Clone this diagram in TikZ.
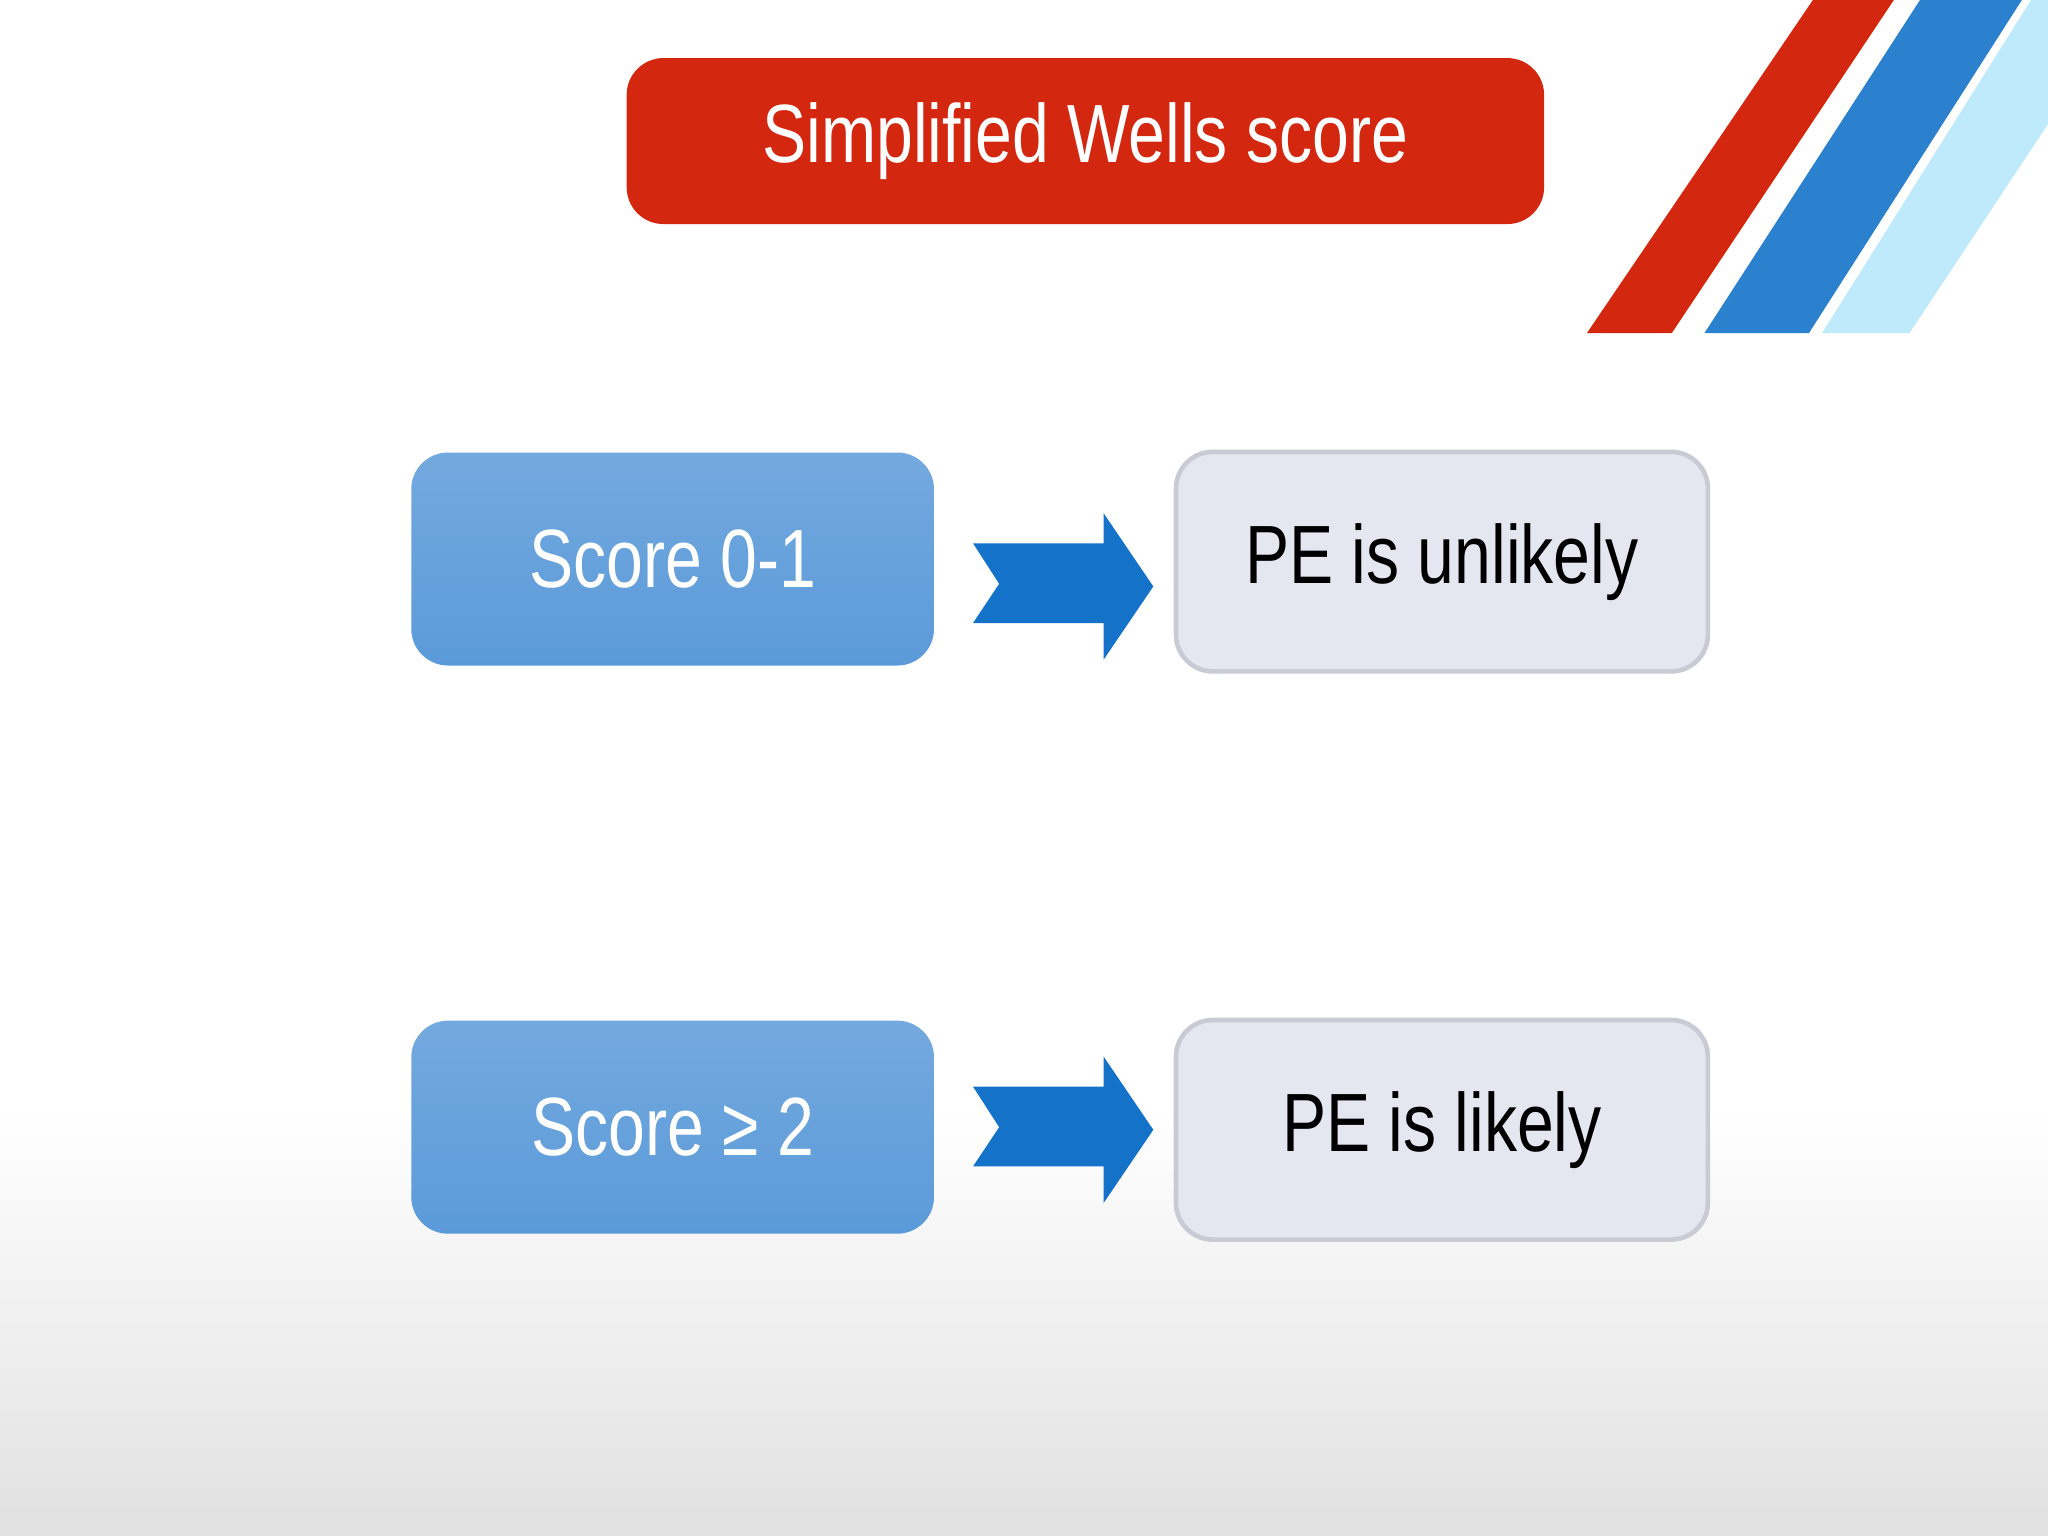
\documentclass[tikz,border=0pt]{standalone}
\usepackage{fontspec}
\setmainfont[FakeStretch=0.8]{Liberation Sans}
\begin{document}
\begin{tikzpicture}[x=0.01cm,y=-0.01cm,
  bluebox/.style={rounded corners=8pt,top color=blue1!85!white,bottom color=blue1,text=white,font=\fontsize{18}{20}\selectfont,minimum width=4cm,minimum height=1.63cm,inner sep=0},
  graybox/.style={rounded corners=8pt,fill=gray1,draw=gray2,line width=1pt,text=black,font=\fontsize{18}{20}\selectfont,minimum width=4.07cm,minimum height=1.68cm,inner sep=0},
  chev/.style={fill=blue2}]
\definecolor{blue1}{HTML}{5B9AD9}
\definecolor{blue2}{HTML}{1473C8}
\definecolor{gray1}{HTML}{E4E6F0}
\definecolor{gray2}{HTML}{C8CAD4}
\definecolor{red1}{HTML}{D42710}
\useasboundingbox (0,0) rectangle (1568,1176);
\fill[white] (0,0) rectangle (1568,850);
\shade[top color=white,bottom color=black!12] (0,850) rectangle (1568,1176);
% stripes
\fill[red1] (1215,255) -- (1280,255) -- (1450,0) -- (1388,0) -- cycle;
\fill[blue2!90] (1305,255) -- (1385,255) -- (1548,0) -- (1470,0) -- cycle;
\fill[cyan!25] (1395,255) -- (1462,255) -- (1568,95) -- (1568,0) -- (1555,0) -- cycle;
\node[rounded corners=8pt,fill=red1,text=white,minimum width=7.02cm,minimum height=1.27cm,inner sep=0,font=\fontsize{18}{20}\selectfont] (title) at (831,108) {Simplified Wells score};
\node[bluebox] (s1) at (515,428) {Score 0-1};
\node[graybox] (p1) at (1104,430) {PE is unlikely};
\node[bluebox] (s2) at (515,863) {Score ≥ 2};
\node[graybox] (p2) at (1104,865) {PE is likely};
\foreach \y in {449,865}{
\fill[chev] (745,\y-33) -- (845,\y-33) -- (845,\y-56) -- (883,\y) -- (845,\y+56) -- (845,\y+28) -- (745,\y+28) -- (765,\y-2) -- cycle;}
\end{tikzpicture}
\end{document}
